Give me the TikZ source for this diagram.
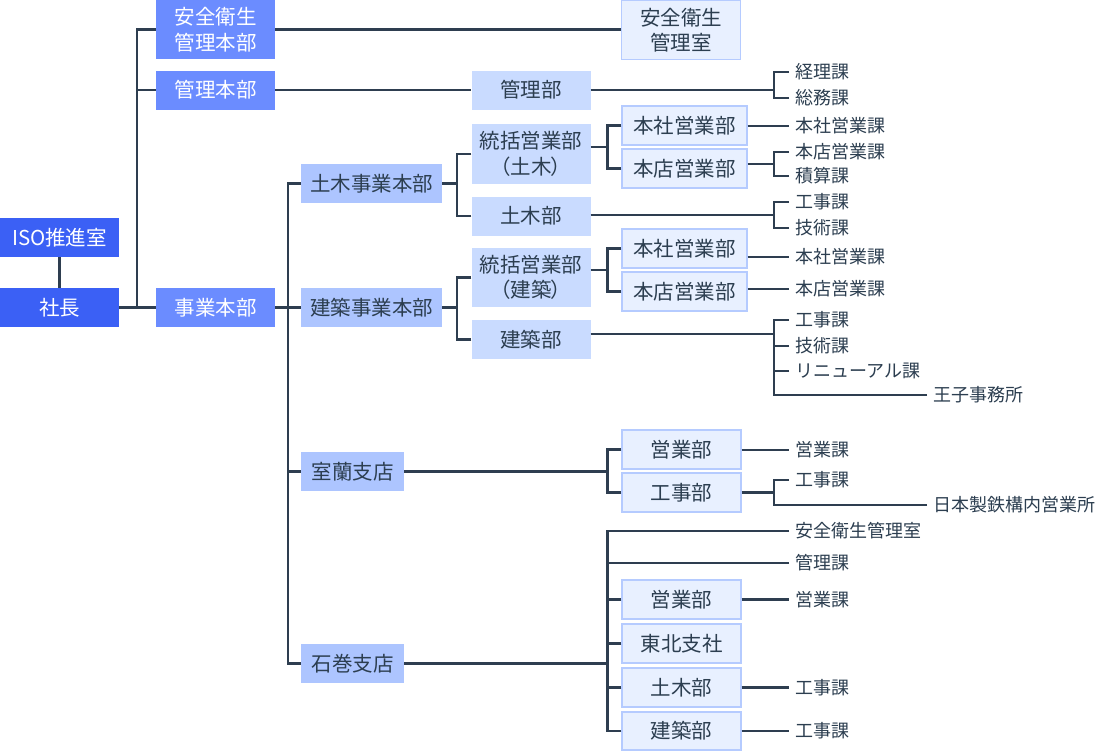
\documentclass[tikz,border=0pt]{standalone}
\usepackage{fontspec}
\setmainfont{Noto Sans CJK JP}
\newfontfamily\paltfont[RawFeature=+palt]{Noto Sans CJK JP}
\definecolor{c0}{HTML}{3B60F5}
\definecolor{c1}{HTML}{6B8CFF}
\definecolor{c2}{HTML}{ADC5FF}
\definecolor{c3}{HTML}{C9DBFF}
\definecolor{c4}{HTML}{E8F0FF}
\definecolor{c4b}{HTML}{B5CBFF}
\definecolor{txt}{HTML}{2C3E50}
\definecolor{lc}{HTML}{2E3E50}
\newcommand\boxfnt{\fontsize{20.5}{25.5}\selectfont}
\newcommand\lblfnt{\fontsize{18}{22}\selectfont}
\tikzset{
  box/.style={rectangle, inner sep=0pt, minimum height=39pt, align=center, font=\boxfnt},
  one/.style={text height=18pt, text depth=2.5pt},
  lv0/.style={box, one, fill=c0, text=white, minimum width=119pt},
  lv1/.style={box, fill=c1, text=white, minimum width=119pt},
  lv2/.style={box, one, fill=c2, text=txt},
  lv3/.style={box, fill=c3, text=txt, minimum width=119pt},
  lv4/.style={box, fill=c4, draw=c4b, line width=1.4pt, text=txt, minimum width=119pt},
  lbl/.style={anchor=west, inner xsep=6pt, inner ysep=0pt, font=\lblfnt, text=txt, text height=15.8pt, text depth=2.2pt},
  conn/.style={draw=lc, line width=2.2pt}
}
\begin{document}
\begin{tikzpicture}[x=1pt,y=-1pt]
\useasboundingbox (0,0) rectangle (1100,750);
\fill[white] (0,0) rectangle (1100,750);
% boxes
\node[lv0] (iso) at (59.5,237.5) {ISO推進室};
\node[lv0] (pres) at (59.5,307.5) {社長};
\node[lv1, minimum height=59pt] (anzH) at (215.5,29.5) {安全衛生\\管理本部};
\node[lv1, one] (kanH) at (215.5,90) {管理本部};
\node[lv1, one] (jigH) at (215.5,307.5) {事業本部};
\node[lv4, minimum height=59pt] (anzS) at (681,30) {安全衛生\\管理室};
\node[lv3, one] (kanB) at (531,90) {管理部};
\node[lv2, minimum width=141pt] (dobH) at (371.5,183.5) {土木事業本部};
\node[lv2, minimum width=141pt] (kenH) at (371.5,307.5) {建築事業本部};
\node[lv2, minimum width=103pt] (muro) at (352.5,471.5) {室蘭支店};
\node[lv2, minimum width=103pt] (ishi) at (352.5,663.5) {石巻支店};
\node[lv3, minimum height=60pt] (touD) at (531,154) {統括営業部\\{\paltfont （土木）}};
\node[lv3, one] (dobB) at (531,216) {土木部};
\node[lv3, minimum height=59pt] (touK) at (531,277.5) {統括営業部\\{\paltfont （建築）}};
\node[lv3, one] (kenB) at (531,339.5) {建築部};
\node[lv4, one, minimum width=125pt] (hsD) at (684.5,125.5) {本社営業部};
\node[lv4, one, minimum width=125pt] (htD) at (684.5,168.5) {本店営業部};
\node[lv4, one, minimum width=125pt] (hsK) at (684.5,248.5) {本社営業部};
\node[lv4, one, minimum width=125pt] (htK) at (684.5,291.5) {本店営業部};
\node[lv4, one] (eiM) at (681.5,449.5) {営業部};
\node[lv4, one] (koM) at (681.5,492.5) {工事部};
\node[lv4, one] (eiI) at (681.5,599.5) {営業部};
\node[lv4, one] (toh) at (681.5,643.5) {東北支社};
\node[lv4, one] (dobI) at (681.5,687.5) {土木部};
\node[lv4, one, minimum height=38pt] (kenI) at (681.5,731) {建築部};
% labels
\node[lbl] (keiri) at (789,72) {経理課};
\node[lbl] (soumu) at (789,98) {総務課};
\node[lbl] (lhsD) at (789,126) {本社営業課};
\node[lbl] (lhtD) at (789,152) {本店営業課};
\node[lbl] (sekisan) at (789,176) {積算課};
\node[lbl] (kojiD) at (789,202) {工事課};
\node[lbl] (gijD) at (789,228) {技術課};
\node[lbl] (lhsK) at (789,257) {本社営業課};
\node[lbl] (lhtK) at (789,289) {本店営業課};
\node[lbl] (kojiK) at (789,320) {工事課};
\node[lbl] (gijK) at (789,346) {技術課};
\node[lbl] (renew) at (789,371) {リニューアル課};
\node[lbl] (oji) at (927,395) {王子事務所};
\node[lbl] (eigM) at (789,450) {営業課};
\node[lbl] (kojiM) at (789,480) {工事課};
\node[lbl] (nippon) at (927,505) {日本製鉄構内営業所};
\node[lbl] (anzL) at (789,531) {安全衛生管理室};
\node[lbl] (kanL) at (789,563) {管理課};
\node[lbl] (eigI) at (789,599.5) {営業課};
\node[lbl] (kojiI1) at (789,687.5) {工事課};
\node[lbl] (kojiI2) at (789,731) {工事課};
% coordinates
\coordinate (bx) at (774,0);
\coordinate (px) at (607.5,0);
\coordinate (qx) at (457,0);
\coordinate (rx) at (288,0);
\coordinate (tx) at (137,0);
% connectors
\draw[conn] (iso) -- (pres);
\draw[conn] (pres.east) -- (jigH.west);
\draw[conn] (anzH.west) -| (pres.east -| tx);
\draw[conn] (kanH.west) -| (pres.east -| tx);
\draw[conn] (anzH.east) -- (anzH.east -| anzS.west);
\draw[conn] (kanH) -- (kanB);
\draw[conn] (kanB.east) -- (kanB.east -| bx);
\draw[conn] (keiri.west) -| (kanB.east -| bx);
\draw[conn] (soumu.west) -| (kanB.east -| bx);
\draw[conn] (jigH.east) -- (kenH.west);
\draw[conn] (dobH.west) -| (jigH.east -| rx);
\draw[conn] (muro.west) -| (jigH.east -| rx);
\draw[conn] (ishi.west) -| (jigH.east -| rx);
% doboku
\draw[conn] (dobH.east) -- (dobH.east -| qx);
\draw[conn] (touD.west) -| (dobH.east -| qx);
\draw[conn] (dobB.west) -| (dobH.east -| qx);
\coordinate (m1) at (607.5,147);
\draw[conn] (m1 -| touD.east) -- (m1);
\draw[conn] (hsD.west) -| (m1);
\draw[conn] (htD.west) -| (m1);
\draw[conn] (hsD.east |- lhsD.west) -- (lhsD.west);
\coordinate (m2) at (774,164);
\draw[conn] (m2 -| htD.east) -- (m2);
\draw[conn] (lhtD.west) -| (m2);
\draw[conn] (sekisan.west) -| (m2);
\coordinate (m3) at (774,215);
\draw[conn] (m3 -| dobB.east) -- (m3);
\draw[conn] (kojiD.west) -| (m3);
\draw[conn] (gijD.west) -| (m3);
% kenchiku
\draw[conn] (kenH.east) -- (kenH.east -| qx);
\draw[conn] (touK.west) -| (kenH.east -| qx);
\draw[conn] (kenB.west) -| (kenH.east -| qx);
\coordinate (m4) at (607.5,270);
\draw[conn] (m4 -| touK.east) -- (m4);
\draw[conn] (hsK.west) -| (m4);
\draw[conn] (htK.west) -| (m4);
\draw[conn] (hsK.east |- lhsK.west) -- (lhsK.west);
\draw[conn] (htK.east |- lhtK.west) -- (lhtK.west);
\coordinate (m5) at (774,334);
\draw[conn] (m5 -| kenB.east) -- (m5);
\draw[conn] (kojiK.west) -| (m5);
\draw[conn] (gijK.west) -| (m5);
\draw[conn] (renew.west) -| (m5);
\draw[conn] (oji.west) -| (m5);
% muroran
\draw[conn] (muro.east) -- (muro.east -| px);
\draw[conn] (eiM.west) -| (muro.east -| px);
\draw[conn] (koM.west) -| (muro.east -| px);
\draw[conn] (eiM.east |- eigM.west) -- (eigM.west);
\coordinate (m7) at (774,492.5);
\draw[conn] (koM.east) -- (m7);
\draw[conn] (kojiM.west) -| (m7);
\draw[conn] (nippon.west) -| (m7);
% ishinomaki
\draw[conn] (ishi.east) -- (ishi.east -| px);
\draw[conn] (anzL.west) -| (ishi.east -| px);
\draw[conn] (kanL.west) -| (ishi.east -| px);
\draw[conn] (eiI.west) -| (ishi.east -| px);
\draw[conn] (toh.west) -| (ishi.east -| px);
\draw[conn] (dobI.west) -| (ishi.east -| px);
\draw[conn] (kenI.west) -| (ishi.east -| px);
\draw[conn] (eiI.east) -- (eigI.west);
\draw[conn] (dobI.east) -- (kojiI1.west);
\draw[conn] (kenI.east) -- (kojiI2.west);
\end{tikzpicture}
\end{document}
